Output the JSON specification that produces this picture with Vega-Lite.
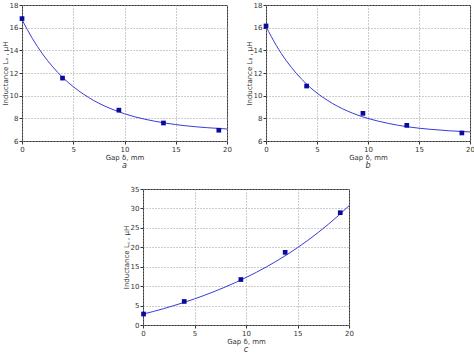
{
  "$schema": "https://vega.github.io/schema/vega-lite/v6.json",
  "padding": {"left": 0, "top": 0, "right": 0, "bottom": 0},
  "background": "white",
  "config": {
    "font": "DejaVu Sans",
    "view": {"stroke": "#333333", "strokeWidth": 1},
    "axis": {
      "domain": false,
      "grid": true,
      "gridDash": [1, 2],
      "gridColor": "#9a9a9a",
      "gridOpacity": 1,
      "tickSize": 3,
      "tickCount": 20,
      "format": "d",
      "tickColor": "#333333",
      "labelFontSize": 7,
      "labelColor": "#333333",
      "labelOverlap": false,
      "labelFlush": false,
      "titleFontSize": 7,
      "titleFontWeight": "normal",
      "titleColor": "#333333",
      "labelPadding": 1,
      "titlePadding": 1
    },
    "title": {"fontSize": 8, "fontStyle": "italic", "fontWeight": "normal", "color": "#333333", "offset": 2}
  },
  "datasets": {
    "pa": [
      {"gap": 0, "L": 16.8}, {"gap": 3.95, "L": 11.55}, {"gap": 9.45, "L": 8.72}, {"gap": 13.8, "L": 7.59}, {"gap": 19.2, "L": 6.95}
    ],
    "ca": [
      {"gap": 0, "L": 16.7}, {"gap": 1, "L": 15.06}, {"gap": 2, "L": 13.68}, {"gap": 3, "L": 12.54}, {"gap": 4, "L": 11.58},
      {"gap": 5, "L": 10.79}, {"gap": 6, "L": 10.13}, {"gap": 7, "L": 9.57}, {"gap": 8, "L": 9.11}, {"gap": 9, "L": 8.73},
      {"gap": 10, "L": 8.4}, {"gap": 12, "L": 7.92}, {"gap": 14, "L": 7.58}, {"gap": 16, "L": 7.34}, {"gap": 18, "L": 7.18}, {"gap": 20, "L": 7.06}
    ],
    "pb": [
      {"gap": 0, "L": 16.15}, {"gap": 3.98, "L": 10.85}, {"gap": 9.5, "L": 8.44}, {"gap": 13.8, "L": 7.38}, {"gap": 19.2, "L": 6.71}
    ],
    "cb": [
      {"gap": 0, "L": 16.1}, {"gap": 1, "L": 14.44}, {"gap": 2, "L": 13.07}, {"gap": 3, "L": 11.94}, {"gap": 4, "L": 11.0},
      {"gap": 5, "L": 10.23}, {"gap": 6, "L": 9.6}, {"gap": 7, "L": 9.07}, {"gap": 8, "L": 8.64}, {"gap": 9, "L": 8.28},
      {"gap": 10, "L": 7.99}, {"gap": 12, "L": 7.55}, {"gap": 14, "L": 7.24}, {"gap": 16, "L": 7.04}, {"gap": 18, "L": 6.9}, {"gap": 20, "L": 6.8}
    ],
    "pc": [
      {"gap": 0.05, "L": 2.82}, {"gap": 4.0, "L": 6.06}, {"gap": 9.5, "L": 11.7}, {"gap": 13.8, "L": 18.7}, {"gap": 19.15, "L": 28.9}
    ],
    "cc": [
      {"gap": 0, "L": 2.8}, {"gap": 1, "L": 3.48}, {"gap": 2, "L": 4.21}, {"gap": 3, "L": 5.0}, {"gap": 4, "L": 5.83},
      {"gap": 5, "L": 6.72}, {"gap": 6, "L": 7.68}, {"gap": 7, "L": 8.7}, {"gap": 8, "L": 9.8}, {"gap": 9, "L": 10.96},
      {"gap": 10, "L": 12.22}, {"gap": 11, "L": 13.55}, {"gap": 12, "L": 14.98}, {"gap": 13, "L": 16.51}, {"gap": 14, "L": 18.15},
      {"gap": 15, "L": 19.91}, {"gap": 16, "L": 21.78}, {"gap": 17, "L": 23.79}, {"gap": 18, "L": 25.94}, {"gap": 19, "L": 28.23}, {"gap": 20, "L": 30.7}
    ]
  },
  "vconcat": [
    {
      "hconcat": [
        {
          "width": 205, "height": 136,
          "title": {"text": "a", "orient": "bottom"},
          "layer": [
            {
              "data": {"name": "ca"},
              "mark": {"type": "line", "color": "#3a3ad8", "strokeWidth": 1, "interpolate": "monotone", "clip": true},
              "encoding": {
                "x": {"field": "gap", "type": "quantitative", "scale": {"domain": [0, 20], "nice": false}, "axis": {"values": [0, 5, 10, 15, 20], "title": "Gap δ, mm"}},
                "y": {"field": "L", "type": "quantitative", "scale": {"domain": [6, 18], "nice": false, "zero": false}, "axis": {"values": [6, 8, 10, 12, 14, 16, 18], "title": "Inductance Lₐ , μH"}}
              }
            },
            {
              "data": {"name": "pa"},
              "mark": {"type": "square", "color": "#0a0a9c", "opacity": 1, "filled": true, "size": 22, "clip": false},
              "encoding": {
                "x": {"field": "gap", "type": "quantitative"},
                "y": {"field": "L", "type": "quantitative"}
              }
            }
          ]
        },
        {
          "width": 204, "height": 136,
          "title": {"text": "b", "orient": "bottom"},
          "layer": [
            {
              "data": {"name": "cb"},
              "mark": {"type": "line", "color": "#3a3ad8", "strokeWidth": 1, "interpolate": "monotone", "clip": true},
              "encoding": {
                "x": {"field": "gap", "type": "quantitative", "scale": {"domain": [0, 20], "nice": false}, "axis": {"values": [0, 5, 10, 15, 20], "title": "Gap δ, mm"}},
                "y": {"field": "L", "type": "quantitative", "scale": {"domain": [6, 18], "nice": false, "zero": false}, "axis": {"values": [6, 8, 10, 12, 14, 16, 18], "title": "Inductance Lᵦ , μH"}}
              }
            },
            {
              "data": {"name": "pb"},
              "mark": {"type": "square", "color": "#0a0a9c", "opacity": 1, "filled": true, "size": 22, "clip": false},
              "encoding": {
                "x": {"field": "gap", "type": "quantitative"},
                "y": {"field": "L", "type": "quantitative"}
              }
            }
          ]
        }
      ],
      "spacing": 12
    },
    {
      "width": 206, "height": 136,
      "title": {"text": "c", "orient": "bottom"},
      "layer": [
        {
          "data": {"name": "cc"},
          "mark": {"type": "line", "color": "#3a3ad8", "strokeWidth": 1, "interpolate": "monotone", "clip": true},
          "encoding": {
            "x": {"field": "gap", "type": "quantitative", "scale": {"domain": [0, 20], "nice": false}, "axis": {"values": [0, 5, 10, 15, 20], "title": "Gap δ, mm"}},
            "y": {"field": "L", "type": "quantitative", "scale": {"domain": [0, 35], "nice": false}, "axis": {"values": [0, 5, 10, 15, 20, 25, 30, 35], "title": "Inductance L꜀ , μH"}}
          }
        },
        {
          "data": {"name": "pc"},
          "mark": {"type": "square", "color": "#0a0a9c", "opacity": 1, "filled": true, "size": 22, "clip": false},
          "encoding": {
            "x": {"field": "gap", "type": "quantitative"},
            "y": {"field": "L", "type": "quantitative"}
          }
        }
      ]
    }
  ],
  "spacing": 13,
  "center": true
}
